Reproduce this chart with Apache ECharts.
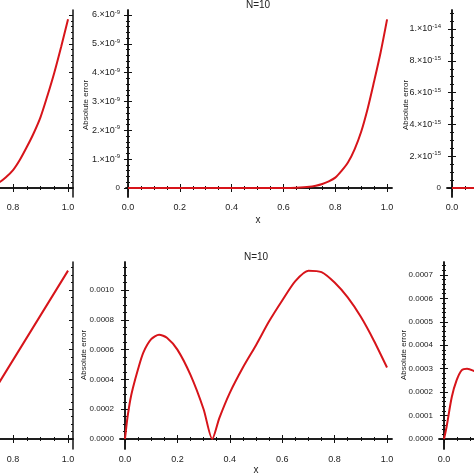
<!DOCTYPE html>
<html><head><meta charset="utf-8">
<script src="https://cdn.jsdelivr.net/npm/echarts@6/dist/echarts.min.js"></script>
<style>html,body{margin:0;padding:0;background:#fff}#c{width:474px;height:474px}</style>
</head><body><div id="c"></div>
<script>
// ---- data ----
const topLeftX = [0.70,0.75,0.775,0.80,0.825,0.85,0.875,0.90,0.925,0.95,0.975,1.00];
const topLeftY = [0.05,0.20,0.38,0.62,0.98,1.42,1.90,2.46,3.20,4.00,4.90,5.85];
const topMidX = [0,0.1,0.2,0.3,0.4,0.5,0.6,0.65,0.7,0.725,0.75,0.775,0.8,0.825,0.85,0.875,0.9,0.925,0.95,0.975,1.0];
const topMidY = [0,0,0,0,0,0,0.002e-9,0.012e-9,0.04e-9,0.08e-9,0.14e-9,0.23e-9,0.36e-9,0.6e-9,0.9e-9,1.35e-9,1.95e-9,2.75e-9,3.7e-9,4.7e-9,5.85e-9];
const topRightX = [0,0.05,0.1,0.2];
const topRightY = [0,0,0,0];
const botLeftX = [0.70,0.75,1.00];
const botLeftY = [0.00030,0.00038,0.00113];
const botMidX = [0,0.005,0.01,0.02,0.03,0.05,0.07,0.1,0.13,0.16,0.2,0.25,0.3,0.333,0.36,0.4,0.45,0.5,0.55,0.6,0.65,0.7,0.75,0.8,0.85,0.9,0.95,1.0];
const botMidY = [0,0.00008,0.00015,0.00026,0.00034,0.00047,0.00058,0.00067,0.0007,0.00068,0.0006,0.00043,0.0002,0,0.00014,0.00031,0.00048,0.00063,0.00079,0.00093,0.00106,0.00113,0.00112,0.00105,0.00095,0.00082,0.00066,0.00048];
const botRightX = [0,0.01,0.03,0.048,0.068,0.088,0.115,0.15];
const botRightY = [0,0.0000525,0.00018,0.00025,0.000294,0.0003,0.00029,0.00027];
const xTicks = [0,0.2,0.4,0.6,0.8,1.0];
const titleText = 'N=10';
const yName = 'Absolute error';

const chart = echarts.init(document.getElementById('c'));
const grids=[], xAxes=[], yAxes=[], series=[];
const BLACK='#111', FONT='Liberation Sans';
function range(a,b,s){const r=[];for(let v=a;v<=b+s*1e-6;v+=s)r.push(+v.toPrecision(10));return r;}
function panel(p){
  const gi=grids.length;
  grids.push({left:p.l,top:p.t,width:p.r-p.l,height:p.b-p.t,containLabel:false,outerBoundsMode:'none'});
  const base={gridIndex:gi,type:'value',splitLine:{show:false}};
  const xs=[['bottom',true,p.xt,4,true],['top',false,p.xt,4,true],['bottom',false,p.xm,2,false],['top',false,p.xm,2,false]];
  const xi0=xAxes.length;
  xs.forEach(([pos,lab,vals,len,line])=>xAxes.push(Object.assign({},base,{min:p.x0,max:p.x1,position:pos,
    axisLine:{show:line,lineStyle:{color:BLACK,width:1.5}},
    axisTick:{show:true,inside:true,length:len,customValues:vals,lineStyle:{color:BLACK}},
    axisLabel:{show:lab,customValues:vals,fontFamily:FONT,fontSize:9,color:'#222',margin:6,formatter:v=>v.toFixed(1)}})));
  const ys=[['left',true,p.yt,4,true],['right',false,p.yt,4,true],['left',false,p.ym,2,false],['right',false,p.ym,2,false]];
  const yi0=yAxes.length;
  ys.forEach(([pos,lab,vals,len,line])=>yAxes.push(Object.assign({},base,{min:p.y0,max:p.y1,position:pos,
    axisLine:{show:line,lineStyle:{color:BLACK,width:1.5}},
    axisTick:{show:true,inside:true,length:len,customValues:vals,lineStyle:{color:BLACK}},
    axisLabel:{show:lab,customValues:vals,fontFamily:FONT,fontSize:8,color:'#222',margin:6,formatter:p.yf,
      rich:{b:{fontFamily:FONT,fontSize:9,color:'#222'},s:{fontFamily:FONT,fontSize:6,color:'#222',verticalAlign:'top',padding:[0,0,5,0]}}}})));
  series.push({type:'line',xAxisIndex:xi0,yAxisIndex:yi0,showSymbol:false,smooth:p.smooth||false,clip:true,
    lineStyle:{color:'#d7141a',width:2},data:p.xd.map((x,i)=>[x,p.yd[i]])});
}
function sci(v){ if(Math.abs(v)<1e-30) return '0'; const e=Math.floor(Math.log10(Math.abs(v))+1e-9); const m=Math.round(v/Math.pow(10,e)); return '{b|'+m+'.×10}{s|'+e+'}'; }
const f4=v=>v.toFixed(4);

// top row
const tyt=range(0,6e-9,1e-9), tym=range(0,6e-9,0.2e-9);
panel({l:-193,r:73,t:10,b:197,x0:0.051,x1:1.018,y0:-0.312e-9,y1:6.173e-9,xt:xTicks,xm:range(0,1,0.05),yt:tyt,ym:tym,yf:sci,xd:topLeftX,yd:topLeftY.map(v=>v*1e-9),smooth:0.3});
panel({l:126,r:392,t:10,b:197,x0:-0.0077,x1:1.019,y0:-0.312e-9,y1:6.173e-9,xt:xTicks,xm:range(0,1,0.05),yt:tyt,ym:tym,yf:sci,xd:topMidX,yd:topMidY,smooth:0.3});
panel({l:447,r:713,t:10,b:197,x0:-0.0193,x1:1.008,y0:-0.566e-15,y1:1.1195e-14,xt:xTicks,xm:range(0,1,0.05),yt:range(0,1e-14,2e-15),ym:range(0,1.1e-14,0.5e-15),yf:sci,xd:topRightX,yd:topRightY});
// bottom row
const byt=range(0,0.001,0.0002), bym=range(0,0.00115,0.00005);
panel({l:-193,r:73,t:262,b:449,x0:0.051,x1:1.018,y0:-0.0000671,y1:0.001188,xt:xTicks,xm:range(0,1,0.05),yt:byt,ym:bym,yf:f4,xd:botLeftX,yd:botLeftY});
panel({l:120,r:392,t:262,b:449,x0:-0.019,x1:1.019,y0:-0.0000671,y1:0.001188,xt:xTicks,xm:range(0,1,0.05),yt:byt,ym:bym,yf:f4,xd:botMidX,yd:botMidY,smooth:0.25});
panel({l:439,r:711,t:262,b:449,x0:-0.019,x1:1.019,y0:-0.0000427,y1:0.0007555,xt:xTicks,xm:range(0,1,0.05),yt:range(0,0.0007,0.0001),ym:range(0,0.00075,0.00002),yf:f4,xd:botRightX,yd:botRightY,smooth:0.3});

chart.setOption({animation:false,grid:grids,xAxis:xAxes,yAxis:yAxes,series:series,
  graphic:[
    {type:'text',x:258,y:5,style:{text:titleText,fontFamily:FONT,fontSize:10,fill:'#222',align:'center',verticalAlign:'middle'}},
    {type:'text',x:256,y:257,style:{text:titleText,fontFamily:FONT,fontSize:10,fill:'#222',align:'center',verticalAlign:'middle'}},
    {type:'text',x:258,y:220,style:{text:'x',fontFamily:FONT,fontSize:10,fill:'#222',align:'center',verticalAlign:'middle'}},
    {type:'text',x:256,y:470,style:{text:'x',fontFamily:FONT,fontSize:10,fill:'#222',align:'center',verticalAlign:'middle'}},
    {type:'text',x:86,y:105,rotation:Math.PI/2,style:{text:yName,fontFamily:FONT,fontSize:8,fill:'#222',align:'center',verticalAlign:'middle'}},
    {type:'text',x:406,y:105,rotation:Math.PI/2,style:{text:yName,fontFamily:FONT,fontSize:8,fill:'#222',align:'center',verticalAlign:'middle'}},
    {type:'text',x:84,y:355,rotation:Math.PI/2,style:{text:yName,fontFamily:FONT,fontSize:8,fill:'#222',align:'center',verticalAlign:'middle'}},
    {type:'text',x:404,y:355,rotation:Math.PI/2,style:{text:yName,fontFamily:FONT,fontSize:8,fill:'#222',align:'center',verticalAlign:'middle'}}
  ]});
</script></body></html>
